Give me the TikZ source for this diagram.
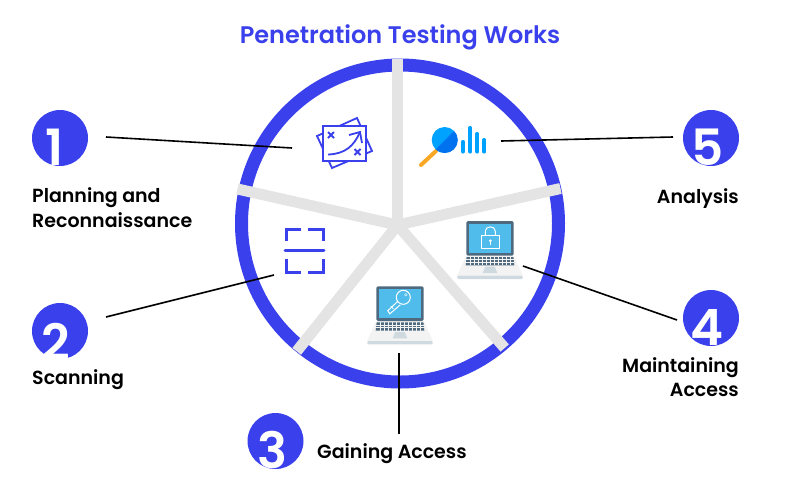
\documentclass[tikz,border=0pt]{standalone}
\usepackage{fontspec}
\setmainfont{Poppins}[UprightFont=* Medium,BoldFont=* SemiBold]
\definecolor{brand}{HTML}{3A41EC}
\definecolor{spoke}{HTML}{E4E4E4}
\definecolor{scrframe}{HTML}{4F6A7E}
\definecolor{scrblue}{HTML}{4FBCEC}
\definecolor{deck}{HTML}{F3F3F3}
\definecolor{deckedge}{HTML}{CFD9E0}
\definecolor{glassa}{HTML}{00A2FF}
\definecolor{glassb}{HTML}{0072F0}
\definecolor{handle}{HTML}{F9A825}
\tikzset{
  ring/.style={draw=brand,line width=13pt},
  spokeline/.style={draw=spoke,line width=11pt},
  lead/.style={draw=black,line width=1.6pt},
  badge/.style={circle,fill=brand,minimum size=56pt,inner sep=0pt},
  digit/.style={text=white,font=\fontsize{50}{50}\selectfont\bfseries,inner sep=0pt,anchor=base},
  caption/.style={text=black,font=\fontsize{19}{25}\selectfont\bfseries,inner sep=0pt,anchor=base west},
  captionr/.style={text=black,font=\fontsize{19}{25}\selectfont\bfseries,inner sep=0pt,anchor=base east},
  iconline/.style={draw=brand,line width=1.8pt},
  scanline/.style={draw=brand,line width=3pt},
  lockline/.style={draw=white,line width=1pt},
}
\newcommand{\laptopshape}{%
  \fill[deck] (0,34.7) -- (47.4,34.7) -- (56.7,54.7) -- (-9.3,54.7) -- cycle;
  \fill[deckedge,rounded corners=1.5pt] (-9.3,54.7) rectangle (56.7,58);
  \fill[scrframe,rounded corners=1.5pt] (0,0) rectangle (47.4,34.7);
  \fill[scrblue] (2.7,3) rectangle (45,32);
  \fill[scrframe] (0.3,36) -- (47.1,36) -- (48,44.3) -- (-0.6,44.3) -- cycle;
  \foreach \yy in {38.7,41.4} \draw[deck,line width=.45pt] (-1,\yy) -- (49,\yy);
  \foreach \xx in {4,8,12,16,20,24,28,32,36,40,44} \draw[deck,line width=.45pt] (\xx,36) -- (\xx,44.3);
  \fill[deckedge] (19,45.7) -- (28.4,45.7) -- (31,52) -- (16.4,52) -- cycle;
}
\begin{document}
\begin{tikzpicture}[x=1pt,y=-1pt]
\useasboundingbox (0,0) rectangle (800,480);
% wheel
\coordinate (hub) at (397.5,225);
\coordinate (sTop) at (397.5,59);
\coordinate (sLeft) at (237.5,189);
\coordinate (sRight) at (560.5,188.5);
\coordinate (sLow) at (296.7,351.3);
\coordinate (sLor) at (504.7,348);
\draw[ring] (400,223.5) circle (158.5);
\foreach \e in {sTop,sLeft,sRight,sLow,sLor} \draw[spokeline] (hub) -- (\e);
% title
\node[inner sep=0pt,anchor=base,text=brand,font=\fontsize{24}{28}\selectfont\bfseries] (title) at (400,43) {Penetration Testing Works};
% plan icon
\draw[iconline,fill=white] (357,118) -- (372,151) -- (332,168) -- (317,136) -- cycle;
\draw[iconline,fill=white] (322.7,125.7) rectangle (366,161);
\draw[iconline] (328,154.5) .. controls (345,154) and (354,146) .. (360,132);
\draw[iconline] (349,135) -- (360,132) -- (362,143);
\draw[iconline] (328,132) -- (334,138) (334,132) -- (328,138);
\draw[iconline] (354.5,149) -- (360.5,155) (360.5,149) -- (354.5,155);
% scan icon
\draw[scanline] (301,229) -- (286,229) -- (286,241);
\draw[scanline] (308,229) -- (323,229) -- (323,241);
\draw[scanline] (286,259) -- (286,272) -- (301,272);
\draw[scanline] (323,259) -- (323,272) -- (308,272);
\draw[scanline,line cap=round] (285,250.5) -- (324,250.5);
% magnifier
\draw[handle,line width=4pt,line cap=round] (436,151) -- (421,165);
\fill[glassa] (444.7,140) circle (13);
\begin{scope}
\clip (435,150) -- (455,130) -- (470,160) -- (440,165) -- cycle;
\fill[glassb] (444.7,140) circle (13);
\end{scope}
\foreach \bx/\by in {463/142,470.3/128,477.3/134,484.3/140}
  \draw[glassa,line width=4.2pt,line cap=round] (\bx,\by) -- (\bx,151.5);
% lock laptop
\begin{scope}[shift={(466.3,221)}]
  \laptopshape
  \draw[lockline] (15.4,14.7) rectangle (32.7,27.7);
  \draw[lockline] (19,14.7) -- (19,10) .. controls (19,4.5) and (29,4.5) .. (29,10) -- (29,14.7);
  \fill[white] (24,19.8) circle (1.5);
  \fill[white] (23.4,20) rectangle (24.6,24);
\end{scope}
% key laptop
\begin{scope}[shift={(376.3,286.3)}]
  \laptopshape
  \draw[lockline] (27,11) circle (7);
  \fill[white] (29.5,8.5) circle (1.6);
  \fill[scrblue] (29.5,8.5) circle (.8);
  \draw[lockline] (21.5,15) -- (11.5,24.5) -- (13.5,27.5) -- (24,18.5);
  \draw[lockline] (14.5,20) -- (17,22.5);
\end{scope}
% badges
\node[badge] (b1) at (60,138) {};
\node[badge] (b2) at (60,331) {};
\node[badge] (b3) at (275.5,441) {};
\node[badge] (b4) at (711,318) {};
\node[badge] (b5) at (711,138) {};
\node[digit] (n1) at (55,165) {1};
\node[digit] (n2) at (56,360) {2};
\node[digit] (n3) at (272,468) {3};
\node[digit] (n4) at (707.5,345) {4};
\node[digit] (n5) at (708,165) {5};
% captions
\node[caption] (c1) at (32,202) {Planning and};
\node[caption] (c1b) at (32,227) {Reconnaissance};
\node[caption] (c2) at (32,384) {Scanning};
\node[caption] (c3) at (317,458) {Gaining Access};
\node[captionr] (c4) at (739,372) {Maintaining};
\node[captionr] (c4b) at (739,396) {Access};
\node[captionr] (c5) at (739,203) {Analysis};
% leader lines
\coordinate (l1a) at (106,137); \coordinate (l1b) at (292,148);
\coordinate (l2a) at (106,317); \coordinate (l2b) at (274,275);
\coordinate (l3a) at (399,353); \coordinate (l3b) at (399,434);
\coordinate (l4a) at (523,266); \coordinate (l4b) at (677,320);
\coordinate (l5a) at (501,141); \coordinate (l5b) at (673,137);
\draw[lead] (l1a) -- (l1b);
\draw[lead] (l2a) -- (l2b);
\draw[lead] (l3a) -- (l3b);
\draw[lead] (l4a) -- (l4b);
\draw[lead] (l5a) -- (l5b);
\end{tikzpicture}
\end{document}
